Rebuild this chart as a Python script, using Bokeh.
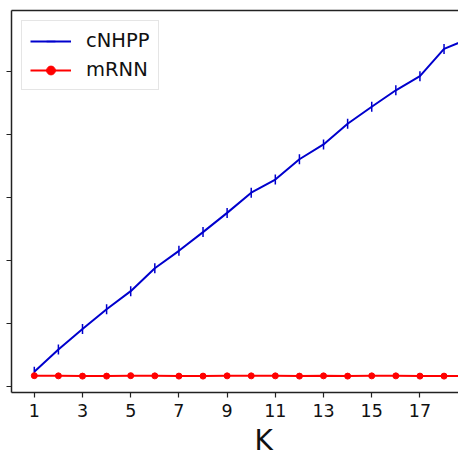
import numpy as np
from bokeh.plotting import figure
from bokeh.models import (Range1d, FixedTicker, LinearAxis, Legend, LegendItem,
                          Title, CustomJSTickFormatter)
from bokeh.embed import file_html
from bokeh.resources import INLINE

# ---- data (y in arbitrary units, tick labels not visible) ----
K = [1, 2, 3, 4, 5, 6, 7, 8, 9, 10, 11, 12, 13, 14, 15, 16, 17, 18, 19, 20]
cnhpp = [0.239, 0.589, 0.917, 1.230, 1.516, 1.880, 2.156, 2.453, 2.758, 3.078,
         3.286, 3.609, 3.844, 4.172, 4.442, 4.703, 4.927, 5.359, 5.52, 5.66]
mrnn = [0.175, 0.172, 0.168, 0.168, 0.175, 0.172, 0.168, 0.168, 0.172, 0.172,
        0.172, 0.168, 0.172, 0.168, 0.172, 0.172, 0.168, 0.168, 0.170, 0.170]
x_ticks = [1, 3, 5, 7, 9, 11, 13, 15, 17, 19]
y_ticks = [0, 1, 2, 3, 4, 5]
series_names = ["cNHPP", "mRNN"]
x_label = "K"

BLUE = "#0000cd"
RED = "#ff0000"
FONT = "DejaVu Sans"
SPINE = "#222222"

p = figure(width=458, height=458, output_backend="svg", toolbar_location=None,
           x_range=Range1d(0.054, 18.60), y_range=Range1d(-0.092, 5.969),
           min_border_left=11, min_border_right=0, min_border_top=10,
           min_border_bottom=0)
p.grid.visible = False
p.outline_line_color = None
p.background_fill_color = "white"
p.border_fill_color = "white"

# x axis
xa = p.xaxis[0]
xa.ticker = FixedTicker(ticks=x_ticks)
xa.major_label_text_font = FONT
xa.major_label_text_font_size = "17.5px"
xa.major_label_text_color = "#111111"
xa.major_tick_out = 5
xa.major_tick_in = 0
xa.minor_tick_line_color = None
xa.major_label_standoff = 6
xa.axis_line_width = 1.5
xa.axis_line_color = SPINE
xa.major_tick_line_color = SPINE
xa.major_tick_line_width = 1.2

# y axis (its labels are cropped off in the reference)
ya = p.yaxis[0]
ya.ticker = FixedTicker(ticks=y_ticks)
ya.formatter = CustomJSTickFormatter(code="return ''")
ya.major_label_standoff = 0
ya.major_tick_out = 5
ya.major_tick_in = 0
ya.minor_tick_line_color = None
ya.axis_line_width = 1.5
ya.axis_line_color = SPINE
ya.major_tick_line_color = SPINE
ya.major_tick_line_width = 1.2

# top spine
top = LinearAxis(ticker=FixedTicker(ticks=[]),
                 major_tick_line_color=None, minor_tick_line_color=None,
                 major_label_standoff=0, major_tick_out=0, major_tick_in=0,
                 axis_line_width=1.5, axis_line_color=SPINE)
p.add_layout(top, "above")

# series
l1 = p.line(K, cnhpp, line_color=BLUE, line_width=2)
s1 = p.scatter(K, cnhpp, marker="dash", angle=np.pi / 2, size=10,
               line_color=BLUE, line_width=1.5)
l2 = p.line(K, mrnn, line_color=RED, line_width=2)
s2 = p.scatter(K, mrnn, marker="circle", size=6, fill_color=RED, line_color=RED)

legend = Legend(items=[LegendItem(label=series_names[0], renderers=[l1, s1]),
                       LegendItem(label=series_names[1], renderers=[l2, s2])],
                location="top_left")
legend.label_text_font = FONT
legend.label_text_font_size = "19.5px"
legend.label_text_color = "#111111"
legend.glyph_width = 41
legend.glyph_height = 22
legend.label_height = 22
legend.spacing = 6
legend.padding = 8
legend.margin = 10
legend.label_standoff = 15
legend.border_line_color = "#cccccc"
legend.border_line_width = 1
legend.background_fill_alpha = 0.8
p.add_layout(legend)

# x-axis label, centred where the (cropped) full axis would centre it
p.add_layout(Title(text=x_label, align="left", offset=243,
                   text_font=FONT, text_font_size="28px",
                   text_font_style="normal", text_color="#111111",
                   standoff=4), "below")

open("out.html", "w").write(file_html(p, INLINE))
